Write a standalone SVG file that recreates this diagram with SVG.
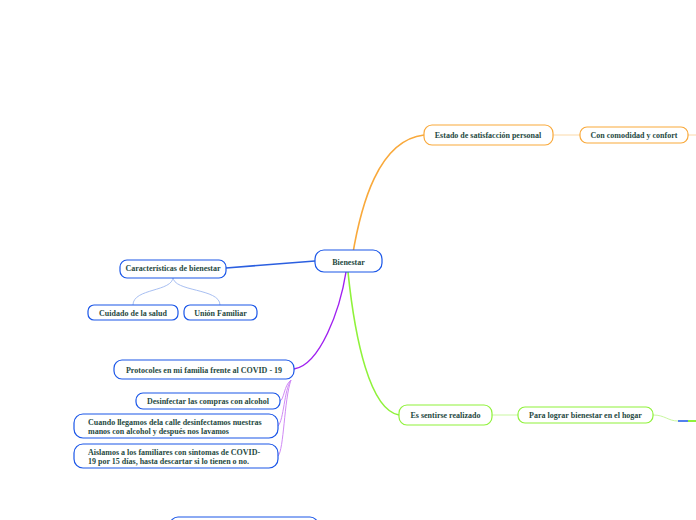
<svg xmlns="http://www.w3.org/2000/svg" width="696" height="520" viewBox="0 0 696 520">
<style>
text{font-family:"Liberation Serif",serif;font-weight:bold;fill:#1f4a3f;font-size:8px}
.n{fill:#fff;stroke-width:1.2}
.b{stroke:#1a56e8}.o{stroke:#f9a93b}.g{stroke:#8ff23a}
.c{fill:none}
</style>
<rect width="696" height="520" fill="#fff"/>
<g id="connectors" class="c">
<path d="M350 272 C360 200 380 140 424 135" stroke="#f9a93b" stroke-width="1.6"/>
<path d="M553 135 L580 135" stroke="#fbd9a8"/>
<path d="M688 135 L696 135" stroke="#fbd9a8"/>
<path d="M348 272 C355 340 370 410 399 415" stroke="#8ff23a" stroke-width="1.6"/>
<path d="M492 415 L518 415" stroke="#c9f7a0"/>
<path d="M653 415 C665 415 668 421 678 421" stroke="#c9f7a0"/>
<path d="M678 421 L688 421" stroke="#1a56e8" stroke-width="1.5"/>
<path d="M688 421 L696 421" stroke="#8ff23a" stroke-width="2"/>
<path d="M315 261 L226 268" stroke="#2b5fe0" stroke-width="1.6"/>
<path d="M173 277 C173 292 133 288 133 305 M173 277 C173 292 220 288 220 305" stroke="#a8bff2"/>
<path d="M346 272 C340 310 320 365 294 369" stroke="#a020f0" stroke-width="1.4"/>
<path d="M291 380 C284 385 284 400 280 401 M291 380 C284 390 284 420 278 426 M291 380 C284 400 284 450 278 456" stroke="#d08af5"/>
</g>
<g id="bienestar"><rect class="n b" x="315" y="250" width="67" height="22" rx="9" stroke="#1a56e8"/><text x="348.5" y="264.5" text-anchor="middle" font-size="10">Bienestar</text></g>
<g id="estado"><rect class="n o" x="424" y="125" width="129" height="20" rx="8"/><text x="488" y="138" text-anchor="middle">Estado de satisfacción personal</text></g>
<g id="comodidad"><rect class="n o" x="580" y="127" width="108" height="16" rx="7"/><text x="634" y="138" text-anchor="middle">Con comodidad y confort</text></g>
<g id="realizado"><rect class="n g" x="399" y="405" width="93" height="20" rx="8"/><text x="445.5" y="418" text-anchor="middle">Es sentirse realizado</text></g>
<g id="hogar"><rect class="n g" x="518" y="407" width="135" height="16" rx="7"/><text x="585.5" y="418" text-anchor="middle">Para lograr bienestar en el hogar</text></g>
<g id="caracteristicas"><rect class="n b" x="120" y="260" width="106" height="18" rx="7"/><text x="173" y="271" text-anchor="middle" font-size="6">Características de bienestar</text></g>
<g id="salud"><rect class="n b" x="88" y="305" width="90" height="15" rx="6"/><text x="133" y="315.5" text-anchor="middle">Cuidado de la salud</text></g>
<g id="union"><rect class="n b" x="184" y="305" width="73" height="15" rx="6"/><text x="220.5" y="315.5" text-anchor="middle">Unión Familiar</text></g>
<g id="protocolos"><rect class="n b" x="114" y="360" width="180" height="19" rx="8"/><text x="204" y="372.5" text-anchor="middle">Protocoles en mi familia frente al COVID - 19</text></g>
<g id="desinfectar"><rect class="n b" x="136" y="393" width="144" height="16" rx="7"/><text x="208" y="404" text-anchor="middle">Desinfectar las compras con alcohol</text></g>
<g id="cuando"><rect class="n b" x="74" y="414" width="204" height="24" rx="9"/><text x="88" y="424.5">Cuando llegamos dela calle desinfectamos nuestras</text><text x="88" y="434">manos con alcohol y después nos lavamos</text></g>
<g id="aislamos"><rect class="n b" x="74" y="444" width="204" height="24" rx="9"/><text x="88" y="454.5">Aislamos a los  familiares con sintomas de COVID-</text><text x="88" y="464">19 por 15 días, hasta descartar si lo tienen o no.</text></g>
<g id="bottom"><rect class="n b" x="170" y="517" width="148" height="20" rx="8"/></g>
</svg>
